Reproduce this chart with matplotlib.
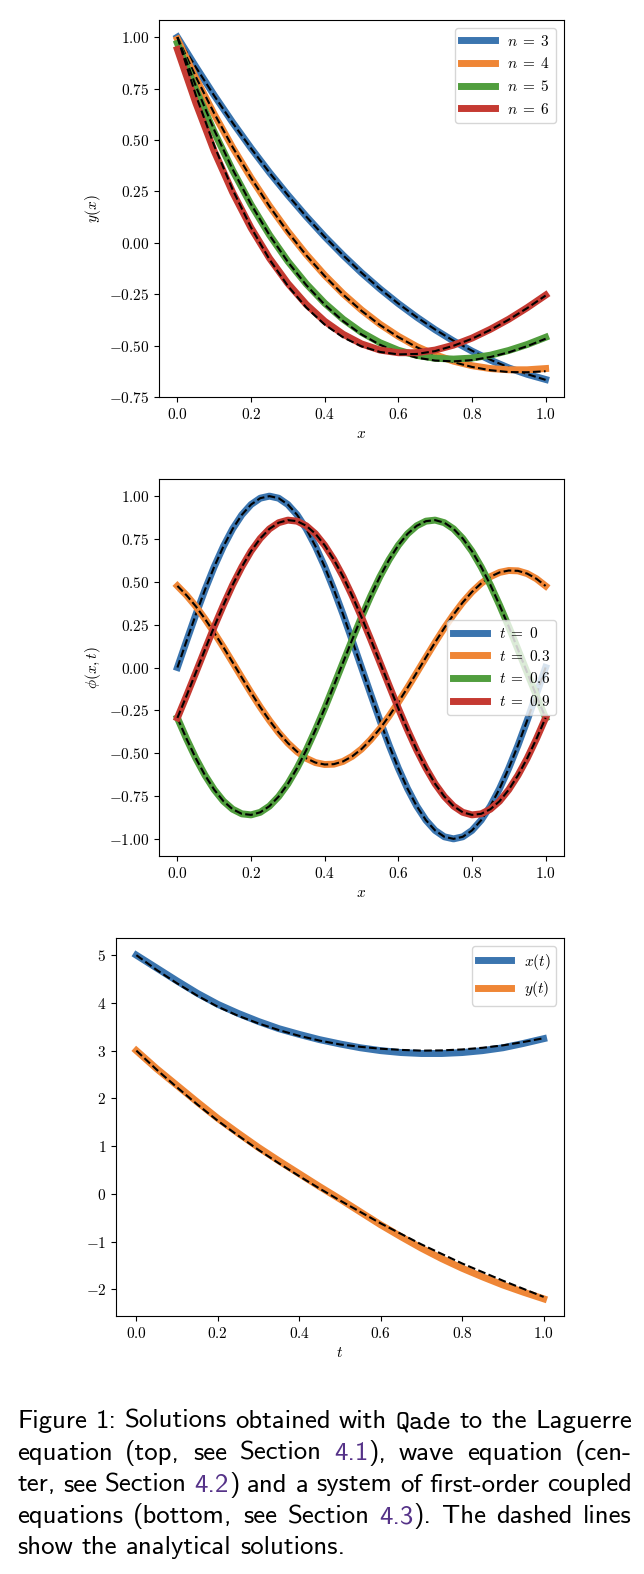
import matplotlib
matplotlib.use("Agg")
import matplotlib.pyplot as plt

plt.rcParams['font.family'] = 'serif'
plt.rcParams['font.serif'] = ['cmr10']
plt.rcParams['mathtext.fontset'] = 'cm'
plt.rcParams['axes.formatter.use_mathtext'] = True
plt.rcParams['font.size'] = 11
plt.rcParams['axes.unicode_minus'] = True

# ---- Laguerre equation (top) ----
x_top = [0.0, 0.05, 0.1, 0.15, 0.2, 0.25, 0.3, 0.35, 0.4, 0.45, 0.5,
         0.55, 0.6, 0.65, 0.7, 0.75, 0.8, 0.85, 0.9, 0.95, 1.0]
n3_num = [1.0, 0.856, 0.717, 0.585, 0.460, 0.342, 0.232, 0.128, 0.030, -0.061, -0.146,
          -0.224, -0.296, -0.362, -0.423, -0.478, -0.527, -0.571, -0.609, -0.640, -0.665]
n3_exact = [1.0, 0.854, 0.715, 0.583, 0.459, 0.341, 0.231, 0.127, 0.029, -0.061, -0.146,
            -0.224, -0.296, -0.362, -0.422, -0.477, -0.525, -0.569, -0.607, -0.639, -0.667]
n4_num = [0.99, 0.800, 0.625, 0.463, 0.315, 0.179, 0.055, -0.057, -0.158, -0.248, -0.327,
          -0.396, -0.455, -0.505, -0.545, -0.576, -0.598, -0.612, -0.618, -0.618, -0.612]
n4_exact = [1.0, 0.807, 0.629, 0.465, 0.315, 0.177, 0.052, -0.061, -0.162, -0.252, -0.331,
            -0.400, -0.459, -0.508, -0.549, -0.581, -0.604, -0.620, -0.629, -0.630, -0.625]
n5_num = [0.97, 0.745, 0.538, 0.352, 0.185, 0.038, -0.090, -0.200, -0.294, -0.372, -0.436,
          -0.486, -0.523, -0.548, -0.562, -0.566, -0.561, -0.547, -0.524, -0.495, -0.460]
n5_exact = [1.0, 0.762, 0.548, 0.357, 0.187, 0.037, -0.093, -0.206, -0.301, -0.381, -0.446,
            -0.496, -0.534, -0.559, -0.573, -0.577, -0.571, -0.556, -0.533, -0.503, -0.467]
n6_num = [0.94, 0.68, 0.445, 0.245, 0.072, -0.075, -0.198, -0.300, -0.382, -0.445, -0.492,
          -0.522, -0.535, -0.535, -0.522, -0.498, -0.464, -0.421, -0.372, -0.316, -0.255]
n6_exact = [1.0, 0.718, 0.472, 0.258, 0.074, -0.081, -0.210, -0.315, -0.398, -0.460, -0.504,
            -0.531, -0.543, -0.541, -0.527, -0.501, -0.467, -0.424, -0.374, -0.318, -0.257]
top_labels = [r'$n\;=\;3$', r'$n\;=\;4$', r'$n\;=\;5$', r'$n\;=\;6$']

# ---- wave equation (middle) ----
x_mid = [0.0, 0.025, 0.05, 0.075, 0.1, 0.125, 0.15, 0.175, 0.2, 0.225, 0.25,
         0.275, 0.3, 0.325, 0.35, 0.375, 0.4, 0.425, 0.45, 0.475, 0.5,
         0.525, 0.55, 0.575, 0.6, 0.625, 0.65, 0.675, 0.7, 0.725, 0.75,
         0.775, 0.8, 0.825, 0.85, 0.875, 0.9, 0.925, 0.95, 0.975, 1.0]
phi_t0 = [0.0, 0.156, 0.309, 0.454, 0.588, 0.707, 0.809, 0.891, 0.951, 0.988, 1.0,
          0.988, 0.951, 0.891, 0.809, 0.707, 0.588, 0.454, 0.309, 0.156, 0.0,
          -0.156, -0.309, -0.454, -0.588, -0.707, -0.809, -0.891, -0.951, -0.988, -1.0,
          -0.988, -0.951, -0.891, -0.809, -0.707, -0.588, -0.454, -0.309, -0.156, 0.0]
phi_t03 = [0.476, 0.421, 0.357, 0.283, 0.203, 0.118, 0.030, -0.059, -0.147, -0.231, -0.309,
           -0.380, -0.441, -0.491, -0.530, -0.555, -0.566, -0.564, -0.548, -0.518, -0.476,
           -0.421, -0.357, -0.283, -0.203, -0.118, -0.030, 0.059, 0.147, 0.231, 0.309,
           0.380, 0.441, 0.491, 0.530, 0.555, 0.566, 0.564, 0.548, 0.518, 0.476]
phi_t06 = [-0.294, -0.417, -0.530, -0.629, -0.713, -0.780, -0.827, -0.854, -0.860, -0.845, -0.809,
           -0.753, -0.679, -0.587, -0.482, -0.364, -0.238, -0.105, 0.030, 0.164, 0.294,
           0.417, 0.530, 0.629, 0.713, 0.780, 0.827, 0.854, 0.860, 0.845, 0.809,
           0.753, 0.679, 0.587, 0.482, 0.364, 0.238, 0.105, -0.030, -0.164, -0.294]
phi_t09 = [-0.294, -0.164, -0.030, 0.105, 0.238, 0.364, 0.482, 0.587, 0.679, 0.753, 0.809,
           0.845, 0.860, 0.854, 0.827, 0.780, 0.713, 0.629, 0.530, 0.417, 0.294,
           0.164, 0.030, -0.105, -0.238, -0.364, -0.482, -0.587, -0.679, -0.753, -0.809,
           -0.845, -0.860, -0.854, -0.827, -0.780, -0.713, -0.629, -0.530, -0.417, -0.294]
mid_labels = [r'$t\;=\;0$', r'$t\;=\;0.3$', r'$t\;=\;0.6$', r'$t\;=\;0.9$']

# ---- coupled system (bottom) ----
t_bot = [0.0, 0.05, 0.1, 0.15, 0.2, 0.25, 0.3, 0.35, 0.4, 0.45, 0.5,
         0.55, 0.6, 0.65, 0.7, 0.75, 0.8, 0.85, 0.9, 0.95, 1.0]
xt_num = [5.00, 4.73, 4.46, 4.20, 3.97, 3.78, 3.61, 3.46, 3.34, 3.23, 3.14,
          3.06, 3.00, 2.96, 2.94, 2.94, 2.96, 3.00, 3.06, 3.15, 3.25]
xt_exact = [5.00, 4.69, 4.41, 4.15, 3.92, 3.73, 3.57, 3.43, 3.31, 3.21, 3.13,
            3.08, 3.04, 3.015, 3.00, 3.005, 3.025, 3.06, 3.11, 3.18, 3.26]
yt_num = [3.00, 2.62, 2.27, 1.92, 1.58, 1.27, 0.97, 0.69, 0.42, 0.15, -0.11,
          -0.38, -0.65, -0.90, -1.14, -1.36, -1.56, -1.74, -1.91, -2.06, -2.20]
yt_exact = [3.00, 2.60, 2.23, 1.87, 1.53, 1.22, 0.92, 0.64, 0.37, 0.11, -0.14,
            -0.38, -0.62, -0.84, -1.06, -1.26, -1.46, -1.64, -1.82, -1.99, -2.16]
bot_labels = [r'$x(t)$', r'$y(t)$']

colors = ['#3b75af', '#ef8636', '#519e3e', '#c53a32']
LW = 5
DLW = 1.5

W, H = 644, 1574
fig = plt.figure(figsize=(W / 100, H / 100), dpi=100)


def box(l, t, r, b):
    return [l / W, 1 - b / H, (r - l) / W, (b - t) / H]


ax1 = fig.add_axes(box(159, 20, 564, 397))
for num, ex, c, lab in zip([n3_num, n4_num, n5_num, n6_num],
                           [n3_exact, n4_exact, n5_exact, n6_exact], colors, top_labels):
    ax1.plot(x_top, num, color=c, lw=LW, label=lab)
    ax1.plot(x_top, ex, 'k--', lw=DLW)
ax1.set_xlabel(r'$x$')
ax1.set_ylabel(r'$y(x)$')
ax1.legend(loc='upper right', handlelength=2.2)

ax2 = fig.add_axes(box(159, 479, 564, 856))
for phi, c, lab in zip([phi_t0, phi_t03, phi_t06, phi_t09], colors, mid_labels):
    ax2.plot(x_mid, phi, color=c, lw=LW, label=lab)
    ax2.plot(x_mid, phi, 'k--', lw=DLW)
ax2.set_xlabel(r'$x$')
ax2.set_ylabel(r'$\phi(x,t)$')
ax2.legend(loc='center right', handlelength=2.2)

ax3 = fig.add_axes(box(116, 938, 564, 1316))
for num, ex, c, lab in zip([xt_num, yt_num], [xt_exact, yt_exact], colors, bot_labels):
    ax3.plot(t_bot, num, color=c, lw=LW, label=lab)
    ax3.plot(t_bot, ex, 'k--', lw=DLW)
ax3.set_xlabel(r'$t$')
ax3.legend(loc='upper right', handlelength=2.2)

for ax in (ax1, ax2, ax3):
    ax.set_xticks([0.0, 0.2, 0.4, 0.6, 0.8, 1.0])

# ---- caption, justified by hand ----
REF = '#553288'
styles = {'n': dict(family='cmss10', color='black'),
          'tt': dict(family='cmtt10', color='black'),
          'ref': dict(family='cmss10', color=REF)}
caption = [
    ["Figure", "1:", "Solutions", "obtained", "with", [("Qade", 'tt')], "to", "the", "Laguerre"],
    ["equation", "(top,", "see", "Section", [("4.1", 'ref'), ("),", 'n')], "wave", "equation", "(cen-"],
    ["ter,", "see", "Section", [("4.2", 'ref'), (")", 'n')], "and", "a", "system", "of",
     "first-order", "coupled"],
    ["equations", "(bottom,", "see", "Section", [("4.3", 'ref'), (").", 'n')], "The", "dashed", "lines"],
    ["show", "the", "analytical", "solutions."],
]
baselines = [1428, 1460, 1491.5, 1523, 1554]
cap_size = 19.3
left, right = 17, 632
renderer = fig.canvas.get_renderer()

for i, (line, yb) in enumerate(zip(caption, baselines)):
    words = []
    for w in line:
        segs = w if isinstance(w, list) else [(w, 'n')]
        texts, widths = [], []
        for s, k in segs:
            t = fig.text(0, 1 - yb / H, s, fontsize=cap_size, va='baseline', ha='left', **styles[k])
            texts.append(t)
            widths.append(t.get_window_extent(renderer).width)
        words.append((texts, widths))
    total = sum(sum(wd) for _, wd in words)
    if i < len(caption) - 1:
        gap = (right - left - total) / (len(words) - 1)
    else:
        gap = 0.333 * cap_size * 100 / 72
    xpos = left
    for texts, widths in words:
        for t, wd in zip(texts, widths):
            t.set_x(xpos / W)
            xpos += wd
        xpos += gap

fig.savefig('out.png', dpi=100)
